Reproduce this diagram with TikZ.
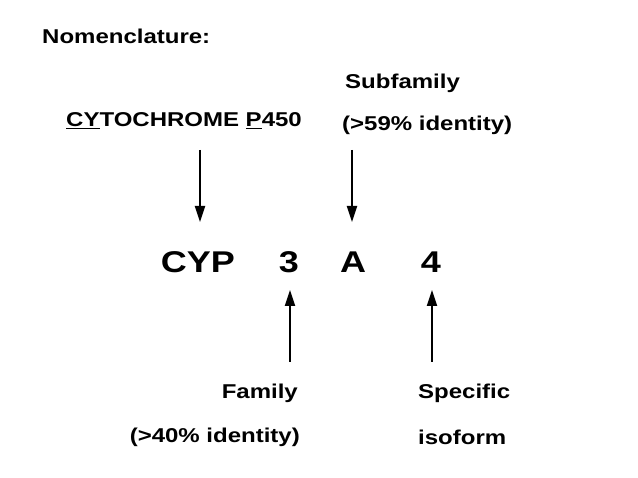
\documentclass[tikz,border=0pt]{standalone}
\usepackage{fontspec}
\setmainfont[FakeStretch=1.2]{Liberation Sans}
\usetikzlibrary{arrows.meta}
\begin{document}
\begin{tikzpicture}[x=1pt,y=-1pt,
  lbl/.style={font=\bfseries\fontsize{20}{24}\selectfont,inner sep=0pt},
  big/.style={font=\bfseries\fontsize{30}{34}\selectfont,inner sep=0pt},
  arr/.style={line width=2pt,-{Triangle[length=16pt,width=10pt]}}]
\useasboundingbox (0,0) rectangle (638,478);
\node[lbl,anchor=west] (nom) at (42,36) {Nomenclature:};
\node[lbl] (cyto) at (184,121) {\underline{CY}TOCHROME \underline{P}450};
\node[lbl,anchor=west] (sub) at (345,83) {Subfamily};
\node[lbl,anchor=west] (subid) at (342,125) {(>59\% identity)};
\node[big] (cyp) at (198,262) {CYP};
\node[big] (three) at (289,262) {3};
\node[big] (a) at (353,262) {A};
\node[big] (four) at (431,262) {4};
\node[lbl,anchor=east] (fam) at (298,393) {Family};
\node[lbl,anchor=east] (famid) at (300,437) {(>40\% identity)};
\node[lbl,anchor=west] (spec) at (418,393) {Specific};
\node[lbl,anchor=west] (iso) at (418,437) {isoform};
\coordinate (t1) at (200,150); \coordinate (h1) at (200,222);
\coordinate (t2) at (352,150); \coordinate (h2) at (352,222);
\coordinate (t3) at (290,362); \coordinate (h3) at (290,290);
\coordinate (t4) at (432,362); \coordinate (h4) at (432,290);
\draw[arr] (t1) -- (h1);
\draw[arr] (t2) -- (h2);
\draw[arr] (t3) -- (h3);
\draw[arr] (t4) -- (h4);
\end{tikzpicture}
\end{document}
